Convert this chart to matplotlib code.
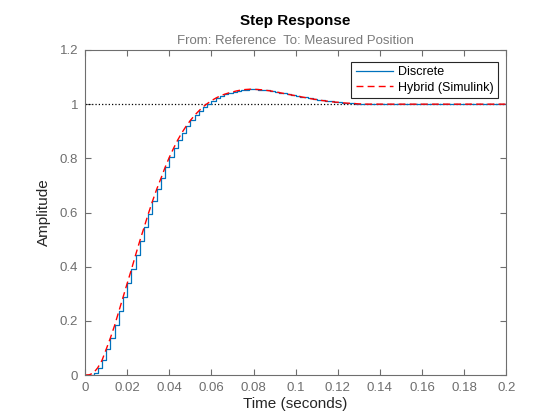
import numpy as np
import matplotlib
matplotlib.use("Agg")
import matplotlib.pyplot as plt

plt.rcParams['font.family'] = ['Liberation Sans', 'DejaVu Sans']

# sample time of the discrete controller
Ts = 0.002

# step response samples (t = 0, Ts, 2Ts, ...)
y_discrete = [
    0.000, 0.001, 0.008, 0.027, 0.054, 0.095, 0.137, 0.183, 0.235, 0.287,
    0.339, 0.390, 0.444, 0.496, 0.545, 0.595, 0.642, 0.686, 0.726, 0.767,
    0.804, 0.837, 0.868, 0.895, 0.919, 0.940, 0.959, 0.975, 0.990, 1.002,
    1.013, 1.022, 1.030, 1.036, 1.041, 1.045, 1.049, 1.052, 1.054, 1.055,
    1.055, 1.054, 1.053, 1.051, 1.049, 1.046, 1.043, 1.040, 1.037, 1.034,
    1.031, 1.028, 1.025, 1.022, 1.019, 1.017, 1.014, 1.012, 1.010, 1.008,
    1.007, 1.005, 1.004, 1.003, 1.002, 1.001, 1.001, 1.000, 1.000, 1.000,
    1.000, 1.000, 1.000, 1.000, 1.000, 1.000, 1.000, 1.000, 1.000, 1.000,
    1.000, 1.000, 1.000, 1.000, 1.000, 1.000, 1.000, 1.000, 1.000, 1.000,
    1.000, 1.000, 1.000, 1.000, 1.000, 1.000, 1.000, 1.000, 1.000, 1.000,
    1.000,
]
# the hybrid (Simulink) output matches the discrete one at the sample times
y_hybrid = list(y_discrete)

xticks = [0, 0.02, 0.04, 0.06, 0.08, 0.1, 0.12, 0.14, 0.16, 0.18, 0.2]
xticklabels = ["0", "0.02", "0.04", "0.06", "0.08", "0.1", "0.12", "0.14", "0.16", "0.18", "0.2"]
yticks = [0, 0.2, 0.4, 0.6, 0.8, 1, 1.2]
yticklabels = ["0", "0.2", "0.4", "0.6", "0.8", "1", "1.2"]

t = np.arange(len(y_discrete)) * Ts

fig = plt.figure(figsize=(5.6, 4.2), dpi=100)
ax = fig.add_axes([0.152, 0.107, 0.752, 0.774])

axis_gray = "#6e6e6e"

# reference line at steady state
ax.plot([0, 0.2], [1, 1], color="black", linestyle=":", linewidth=0.9)

ax.plot(t, y_discrete, drawstyle="steps-post", color="#0072BD", linewidth=0.9, label="Discrete")
ax.plot(t, y_hybrid, color="red", linestyle=(0, (5, 3)), linewidth=1.0, label="Hybrid (Simulink)")

ax.set_xlim(0, 0.2)
ax.set_ylim(0, 1.2)
ax.set_xticks(xticks)
ax.set_xticklabels(xticklabels)
ax.set_yticks(yticks)
ax.set_yticklabels(yticklabels)

ax.tick_params(direction="in", top=True, right=True, length=4, width=0.8,
               colors=axis_gray, labelsize=9.5, pad=5)
for s in ax.spines.values():
    s.set_color(axis_gray)
    s.set_linewidth(0.8)

ax.set_xlabel("Time (seconds)", fontsize=11, color="#262626", labelpad=2)
ax.set_ylabel("Amplitude", fontsize=11, color="#262626", labelpad=6)

fig.text(0.528, 0.950, "Step Response", ha="center", va="center",
         fontsize=11, fontweight="bold", color="black")
fig.text(0.528, 0.902, "From: Reference  To: Measured Position", ha="center", va="center",
         fontsize=9.5, color="#7a7a7a")

leg = ax.legend(loc="upper right", bbox_to_anchor=(0.981, 0.963), fontsize=9,
                fancybox=False, framealpha=1, edgecolor="#262626", borderaxespad=0,
                handlelength=3.0, borderpad=0.35, labelspacing=0.25, handletextpad=0.4)
leg.get_frame().set_linewidth(0.8)

fig.savefig("out.png", dpi=100)
